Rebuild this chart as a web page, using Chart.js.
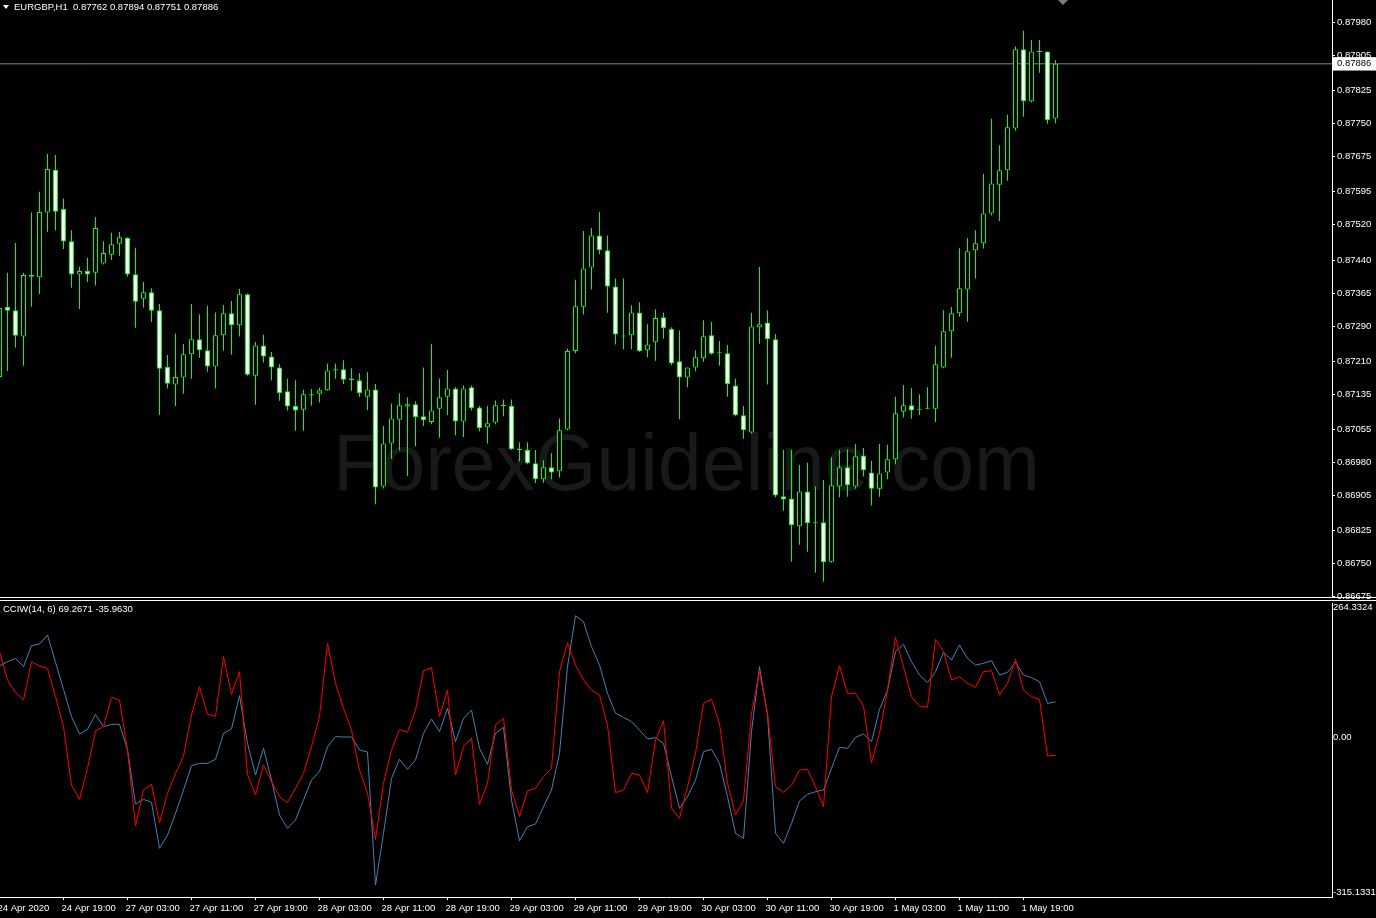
<!DOCTYPE html>
<html>
<head>
<meta charset="utf-8">
<script src="https://cdn.jsdelivr.net/npm/chart.js@4.4.1/dist/chart.umd.min.js"></script>
<style>
  html, body { margin: 0; padding: 0; background: #000; width: 1376px; height: 918px; overflow: hidden; }
  #wrap { position: relative; width: 1376px; height: 918px; }
  canvas { position: absolute; left: 0; }
  #main { top: 0; }
  #ind { top: 598px; }
  .lbl { position: absolute; color: #fff; font: 9.5px "Liberation Sans", Arial, sans-serif; white-space: pre; line-height: 12px; }
  #watermark { position: absolute; left: 333px; top: 423px; color: #191919; font: 79px "Liberation Sans", Arial, sans-serif; line-height: 79px; white-space: pre; }
  #menuTri { position: absolute; left: 3px; top: 5px; width: 0; height: 0; border-left: 3px solid transparent; border-right: 3px solid transparent; border-top: 4px solid #fff; }
  #shiftMark { position: absolute; left: 1058px; top: 0; width: 0; height: 0; border-left: 5px solid transparent; border-right: 5px solid transparent; border-top: 5px solid #7d7d7d; }
</style>
</head>
<body>
<div id="wrap">
  <div id="watermark">ForexGuideline.com</div>
  <canvas id="ind" width="1376" height="320"></canvas>
  <canvas id="main" width="1376" height="606"></canvas>
  <div id="menuTri"></div>
  <div class="lbl" style="left:14px;top:1px;">EURGBP,H1  0.87762 0.87894 0.87751 0.87886</div>
  <div class="lbl" style="left:3px;top:603px;">CCIW(14, 6) 69.2671 -35.9630</div>
  <div id="shiftMark"></div>
</div>
<script>
// EURGBP H1, 24 Apr 11:00 .. 1 May 23:00
const timeLabels = ['24 Apr 2020', '24 Apr 19:00', '27 Apr 03:00', '27 Apr 11:00', '27 Apr 19:00',
  '28 Apr 03:00', '28 Apr 11:00', '28 Apr 19:00', '29 Apr 03:00', '29 Apr 11:00', '29 Apr 19:00',
  '30 Apr 03:00', '30 Apr 11:00', '30 Apr 19:00', '1 May 03:00', '1 May 11:00', '1 May 19:00'];
const timeTickBars = [0, 8, 16, 24, 32, 40, 48, 56, 64, 72, 80, 88, 96, 104, 112, 120, 128];

const priceTicks = [0.87980, 0.87905, 0.87825, 0.87750, 0.87675, 0.87595, 0.87520, 0.87440, 0.87365,
  0.87290, 0.87210, 0.87135, 0.87055, 0.86980, 0.86905, 0.86825, 0.86750, 0.86675];
const cciMax = 264.3324, cciMin = -315.1331;
const cciTickText = ['264.3324', '0.00', '-315.1331'];

const openP = [0.87174,0.87333,0.87326,0.87266,0.87402,0.87401,0.87548,0.87645,0.87556,0.87483,
  0.87407,0.87415,0.87411,0.87432,0.87452,0.87477,0.87490,0.87408,0.87352,0.87367,
  0.87326,0.87197,0.87157,0.87173,0.87226,0.87260,0.87235,0.87198,0.87269,0.87319,
  0.87292,0.87362,0.87177,0.87246,0.87221,0.87196,0.87142,0.87108,0.87100,0.87132,
  0.87136,0.87144,0.87189,0.87192,0.87171,0.87167,0.87129,0.87146,0.86925,0.87023,
  0.87077,0.87107,0.87112,0.87085,0.87072,0.87102,0.87129,0.87148,0.87073,0.87151,
  0.87105,0.87060,0.87071,0.87108,0.87108,0.87010,0.87008,0.86978,0.86942,0.86969,
  0.86960,0.87055,0.87233,0.87334,0.87423,0.87496,0.87462,0.87380,0.87266,0.87269,
  0.87321,0.87235,0.87253,0.87310,0.87283,0.87210,0.87173,0.87196,0.87217,0.87269,
  0.87228,0.87228,0.87155,0.87087,0.87048,0.87287,0.87298,0.87260,0.86903,0.86898,
  0.86835,0.86914,0.86843,0.86844,0.86754,0.86925,0.86969,0.86925,0.86996,0.86957,
  0.86920,0.86957,0.86987,0.87095,0.87110,0.87100,0.87102,0.87102,0.87196,0.87278,
  0.87319,0.87373,0.87462,0.87478,0.87546,0.87611,0.87644,0.87739,0.87919,0.87801,
  0.87913,0.87914,0.87762];
const highP = [0.87345,0.87411,0.87479,0.87411,0.87548,0.87595,0.87681,0.87679,0.87580,0.87508,
  0.87425,0.87445,0.87538,0.87483,0.87502,0.87504,0.87492,0.87468,0.87390,0.87376,
  0.87340,0.87224,0.87273,0.87249,0.87340,0.87317,0.87336,0.87321,0.87338,0.87347,
  0.87374,0.87364,0.87254,0.87270,0.87231,0.87203,0.87170,0.87167,0.87145,0.87147,
  0.87150,0.87205,0.87205,0.87212,0.87194,0.87183,0.87185,0.87158,0.87063,0.87114,
  0.87137,0.87128,0.87119,0.87196,0.87249,0.87171,0.87190,0.87151,0.87155,0.87155,
  0.87108,0.87108,0.87121,0.87123,0.87123,0.87026,0.87026,0.87008,0.86985,0.87001,
  0.87080,0.87239,0.87395,0.87506,0.87513,0.87549,0.87495,0.87398,0.87398,0.87337,
  0.87344,0.87294,0.87328,0.87321,0.87287,0.87280,0.87196,0.87235,0.87303,0.87299,
  0.87256,0.87247,0.87170,0.87108,0.87320,0.87424,0.87326,0.87272,0.87008,0.87008,
  0.86974,0.86979,0.86926,0.86940,0.86992,0.87008,0.87010,0.87022,0.87013,0.86983,
  0.87022,0.87020,0.87129,0.87156,0.87149,0.87135,0.87151,0.87245,0.87326,0.87333,
  0.87467,0.87490,0.87508,0.87636,0.87761,0.87701,0.87770,0.87926,0.87961,0.87940,
  0.87940,0.87914,0.87894];
const lowP = [0.87160,0.87188,0.87241,0.87200,0.87334,0.87363,0.87504,0.87508,0.87465,0.87377,
  0.87329,0.87390,0.87382,0.87430,0.87440,0.87449,0.87402,0.87286,0.87332,0.87299,
  0.87088,0.87148,0.87108,0.87136,0.87170,0.87218,0.87186,0.87148,0.87234,0.87225,
  0.87266,0.87177,0.87111,0.87207,0.87166,0.87120,0.87098,0.87052,0.87052,0.87109,
  0.87116,0.87143,0.87170,0.87158,0.87143,0.87129,0.87099,0.86885,0.86921,0.86988,
  0.87007,0.86949,0.87017,0.87063,0.87067,0.87036,0.87088,0.87042,0.87038,0.87098,
  0.87051,0.87023,0.87067,0.87085,0.87008,0.86982,0.86976,0.86933,0.86934,0.86942,
  0.86946,0.87053,0.87228,0.87316,0.87373,0.87453,0.87320,0.87248,0.87237,0.87237,
  0.87231,0.87219,0.87211,0.87261,0.87201,0.87078,0.87151,0.87187,0.87209,0.87225,
  0.87200,0.87129,0.87085,0.87034,0.87046,0.87250,0.87157,0.86901,0.86870,0.86754,
  0.86793,0.86777,0.86729,0.86709,0.86752,0.86900,0.86902,0.86920,0.86948,0.86882,
  0.86902,0.86942,0.86976,0.87082,0.87079,0.87088,0.87101,0.87072,0.87194,0.87218,
  0.87311,0.87300,0.87398,0.87466,0.87541,0.87529,0.87620,0.87734,0.87766,0.87798,
  0.87866,0.87750,0.87751];
const closeP = [0.87331,0.87325,0.87268,0.87406,0.87406,0.87549,0.87647,0.87550,0.87482,0.87407,
  0.87415,0.87407,0.87513,0.87456,0.87476,0.87492,0.87407,0.87345,0.87367,0.87325,
  0.87193,0.87159,0.87174,0.87226,0.87260,0.87235,0.87198,0.87269,0.87319,0.87292,
  0.87362,0.87179,0.87246,0.87221,0.87196,0.87138,0.87107,0.87098,0.87135,0.87135,
  0.87144,0.87189,0.87192,0.87168,0.87167,0.87137,0.87146,0.86923,0.87023,0.87080,
  0.87110,0.87112,0.87083,0.87076,0.87098,0.87128,0.87148,0.87073,0.87148,0.87103,
  0.87058,0.87069,0.87110,0.87108,0.87010,0.87008,0.86978,0.86942,0.86969,0.86957,
  0.87053,0.87233,0.87335,0.87421,0.87496,0.87462,0.87380,0.87271,0.87266,0.87321,
  0.87233,0.87248,0.87308,0.87285,0.87205,0.87173,0.87196,0.87219,0.87267,0.87227,
  0.87228,0.87158,0.87087,0.87053,0.87289,0.87294,0.87260,0.86905,0.86896,0.86837,
  0.86914,0.86842,0.86843,0.86753,0.86928,0.86969,0.86928,0.86994,0.86962,0.86920,
  0.86955,0.86987,0.87092,0.87110,0.87098,0.87100,0.87102,0.87203,0.87278,0.87319,
  0.87376,0.87460,0.87478,0.87546,0.87614,0.87644,0.87742,0.87919,0.87801,0.87914,
  0.87913,0.87758,0.87886];

// CCIW(14, 6): main line (blue) and signal (red)
const cciMain = [140.1,148.7,155.2,138.8,180.2,183.5,201.2,147.4,94.1,40.3,
  6.1,15.3,44.9,20.6,25.2,25.2,-25.4,-131.9,-122.7,-128.6,
  -219.2,-193.0,-150.3,-104.3,-56.3,-51.7,-51.7,-43.8,7.4,16.0,
  81.7,-12.3,-74.7,-22.0,-84.6,-153.5,-179.8,-163.4,-124.0,-84.6,
  -68.1,-18.9,0.9,0.2,0.2,-25.4,-29.4,-291.5,-189.7,-81.3,
  -43.8,-63.5,-45.1,7.4,35.7,10.7,56.7,-9.0,37.0,53.4,
  -22.1,-53.7,7.4,19.3,-124.0,-204.1,-176.5,-171.3,-137.1,-104.3,
  -32.0,138.8,239.3,227.5,178.2,142.1,86.3,47.0,39.0,30.4,
  14.0,-3.7,-1.1,-12.3,-78.0,-140.4,-117.4,-84.6,-28.7,-24.1,
  -51.7,-117.4,-189.7,-199.5,10.7,138.8,43.6,-189.7,-209.4,-170.0,
  -125.9,-112.8,-107.5,-104.3,-61.6,-20.2,-22.1,-0.5,6.1,-9.0,
  54.7,92.8,168.4,182.8,148.7,122.4,107.3,129.0,167.1,152.0,
  181.5,155.2,142.1,145.4,150.6,122.4,127.7,147.4,122.4,117.1,
  109.3,66.6,69.2671];
const cciSignal = [168.4,112.5,87.6,73.1,148.7,140.1,135.5,79.7,20.6,-94.4,
  -122.7,-61.6,12.0,20.6,78.4,73.1,-25.4,-175.2,-104.3,-93.1,
  -168.6,-110.8,-71.4,-37.3,43.6,99.4,44.9,40.9,158.5,84.3,
  129.0,-73.4,-114.1,-55.0,-87.8,-117.4,-129.2,-101.0,-71.4,-18.9,
  40.3,184.8,106.0,56.7,14.0,-64.8,-110.8,-201.5,-91.1,-25.4,
  15.3,9.4,53.4,130.9,136.9,40.3,92.8,-74.7,-18.9,-2.4,
  -132.5,-91.1,23.8,37.0,-104.3,-156.8,-105.6,-101.0,-78.0,-61.6,
  129.0,186.1,142.1,112.5,92.8,83.0,23.8,-109.5,-104.3,-71.4,
  -74.7,-109.5,-5.7,32.4,-140.4,-160.1,-97.7,-32.0,66.6,74.4,
  27.1,-91.1,-153.5,-125.9,46.8,129.0,46.8,-97.7,-108.9,-95.0,
  -64.8,-63.5,-97.7,-137.1,79.7,140.8,86.3,86.3,61.3,-50.4,
  7.4,92.8,196.6,138.8,79.7,61.3,58.7,192.7,168.4,112.5,
  119.1,106.0,98.1,129.0,130.9,83.0,106.0,153.3,92.8,79.7,
  74.4,-37.3,-35.963];

const bidPrice = closeP[closeP.length - 1];

// view settings (8 px per bar, price scale of the window)
const X_MIN = 0.0625, X_MAX = 166.5625;
const Y_MIN = 0.866741, Y_MAX = 0.880311;
const IND_AREA_H = 294;
const GREEN = '#00ff00';
const axisFont = { family: '"Liberation Sans", Arial, sans-serif', size: 9.5 };

const idx = openP.map((_, i) => i);
const bodyData = idx.map(i => ({ x: i, y: [openP[i], closeP[i]] }));
const wickData = idx.map(i => ({ x: i, y: [lowP[i], highP[i]] }));
const bodyFill = idx.map(i => closeP[i] < openP[i] ? '#ffffff' : (closeP[i] > openP[i] ? '#000000' : GREEN));

const fitY = s => { s.width = 44; s.paddingTop = 0; s.paddingBottom = 0; };
const isBid = c => !!(c.tick && c.tick.value === bidPrice);

// MT4 draws the max / min labels a few px inside the window edges
const cciPerPx = (cciMax - cciMin) / IND_AREA_H;
const cciLabelPos = [cciMax - 4 * cciPerPx, 0, cciMin + 5 * cciPerPx];

// panel separator lines
const frameMain = {
  id: 'frameMain',
  afterDraw(chart) {
    const ctx = chart.ctx;
    ctx.save();
    ctx.strokeStyle = '#ffffff';
    ctx.lineWidth = 1;
    ctx.beginPath();
    ctx.moveTo(0, chart.chartArea.bottom + 0.5);
    ctx.lineTo(chart.width, chart.chartArea.bottom + 0.5);
    ctx.stroke();
    ctx.restore();
  }
};
const frameInd = {
  id: 'frameInd',
  afterDraw(chart) {
    const ctx = chart.ctx;
    ctx.save();
    ctx.strokeStyle = '#ffffff';
    ctx.lineWidth = 1;
    ctx.beginPath();
    ctx.moveTo(0, 2.5);
    ctx.lineTo(chart.width, 2.5);
    ctx.stroke();
    ctx.restore();
  }
};

new Chart(document.getElementById('ind'), {
  type: 'line',
  data: {
    datasets: [
      { label: 'signal', data: idx.map(i => ({ x: i, y: cciSignal[i] })), order: 0,
        borderColor: '#ff0000', borderWidth: 1, pointRadius: 0, tension: 0 },
      { label: 'cci', data: idx.map(i => ({ x: i, y: cciMain[i] })), order: 1,
        borderColor: '#4682b4', borderWidth: 1, pointRadius: 0, tension: 0 }
    ]
  },
  options: {
    responsive: false, animation: false, events: [],
    layout: { padding: { top: 5, bottom: 0, left: 0, right: 0 } },
    plugins: { legend: { display: false }, tooltip: { enabled: false } },
    scales: {
      x: {
        type: 'linear', min: X_MIN, max: X_MAX, offset: false,
        afterFit: s => { s.height = 21; s.paddingLeft = 0; s.paddingRight = 0; },
        afterBuildTicks: s => { s.ticks = timeTickBars.map(v => ({ value: v })); },
        ticks: {
          autoSkip: false, maxRotation: 0, minRotation: 0, align: 'start', padding: 3, labelOffset: -2,
          font: axisFont, color: '#ffffff',
          callback: (v, i) => timeLabels[i]
        },
        grid: { drawOnChartArea: false, drawTicks: true, tickLength: 3, color: '#ffffff' },
        border: { display: true, color: '#ffffff', width: 1 }
      },
      y: {
        position: 'right', min: cciMin, max: cciMax,
        afterFit: fitY,
        afterBuildTicks: s => { s.ticks = cciLabelPos.map(v => ({ value: v })); },
        ticks: { autoSkip: false, font: axisFont, padding: 0, color: '#ffffff', callback: (v, i) => cciTickText[i] },
        grid: { drawOnChartArea: false, drawTicks: true, tickLength: 1, color: 'rgba(0,0,0,0)' },
        border: { display: true, color: '#ffffff', width: 1 }
      }
    }
  },
  plugins: [frameInd]
});

new Chart(document.getElementById('main'), {
  type: 'bar',
  data: {
    datasets: [
      {
        label: 'body', data: bodyData, order: 0,
        backgroundColor: bodyFill, borderColor: GREEN, borderWidth: 1, borderSkipped: false,
        barThickness: 5, minBarLength: 1, grouped: false, inflateAmount: 0
      },
      {
        label: 'wick', data: wickData, order: 1,
        backgroundColor: GREEN, borderWidth: 0, barThickness: 1, grouped: false, inflateAmount: 0
      },
      {
        type: 'line', label: 'bid', order: 2,
        data: [{ x: X_MIN, y: bidPrice }, { x: X_MAX, y: bidPrice }],
        borderColor: '#7b8aa0', borderWidth: 1, pointRadius: 0
      }
    ]
  },
  options: {
    responsive: false, animation: false, events: [],
    layout: { padding: { top: 0, bottom: 9, left: 0, right: 0 } },
    plugins: { legend: { display: false }, tooltip: { enabled: false } },
    scales: {
      x: { type: 'linear', min: X_MIN, max: X_MAX, display: false, offset: false },
      y: {
        position: 'right', min: Y_MIN, max: Y_MAX,
        afterFit: fitY,
        afterBuildTicks: s => { s.ticks = priceTicks.concat([bidPrice]).map(v => ({ value: v })); },
        ticks: {
          autoSkip: false, font: axisFont, padding: 2,
          color: c => isBid(c) ? '#000000' : '#ffffff',
          callback: v => Number(v).toFixed(5),
          showLabelBackdrop: c => isBid(c),
          backdropColor: '#ffffff',
          backdropPadding: { top: 1, bottom: 1, left: 4, right: 8 }
        },
        grid: { drawOnChartArea: false, drawTicks: true, tickLength: 3, color: c => isBid(c) ? 'rgba(0,0,0,0)' : '#ffffff' },
        border: { display: true, color: '#ffffff', width: 1 }
      }
    }
  },
  plugins: [frameMain]
});
</script>
</body>
</html>
